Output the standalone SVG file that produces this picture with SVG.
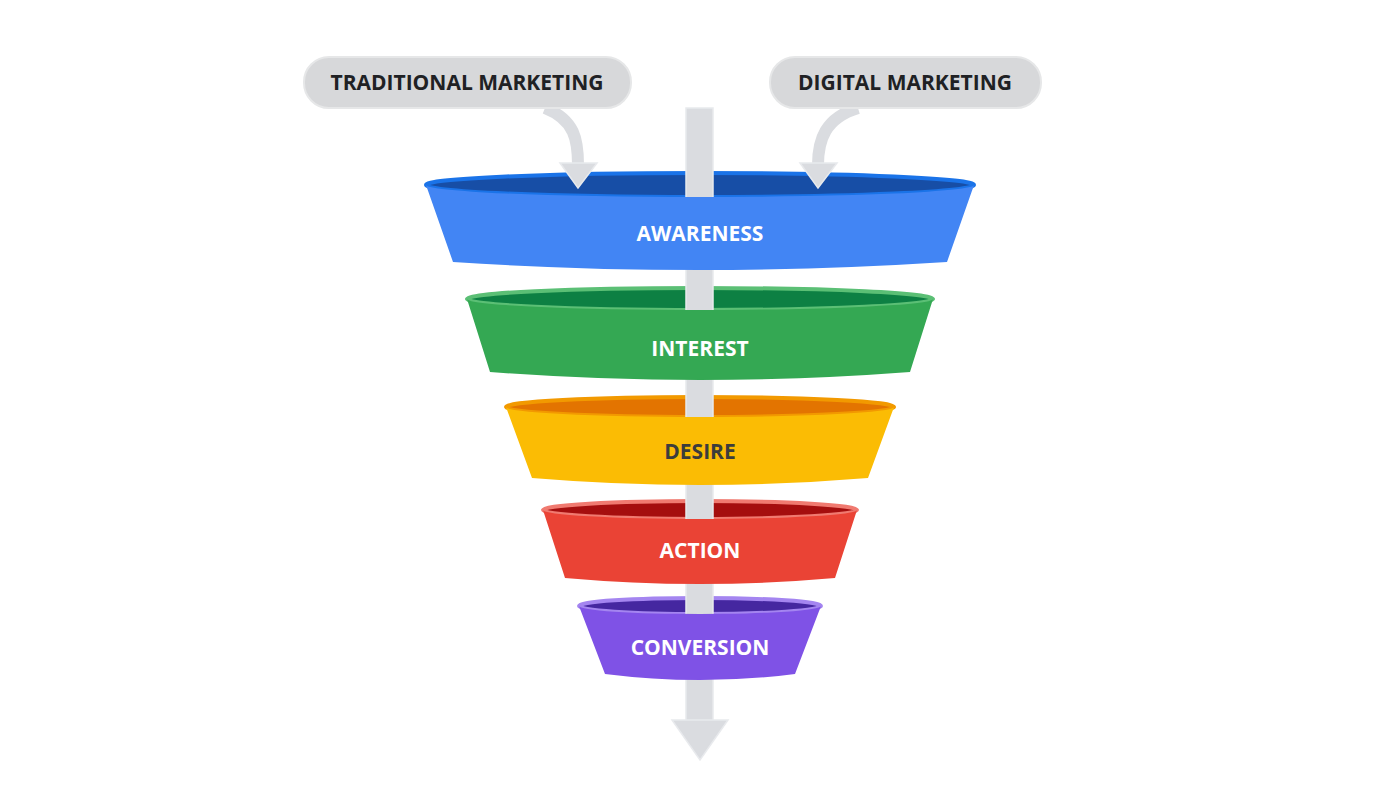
<svg xmlns="http://www.w3.org/2000/svg" width="1400" height="788" viewBox="0 0 1400 788">
<style>
.lbl{font-family:"Open Sans","Liberation Sans",sans-serif;font-weight:700;font-size:21px;text-anchor:middle}
.bub{fill:#d7d8da;stroke:#e6e7e8;stroke-width:2}
.bt{fill:#202124;font-size:21px}
.gray{fill:#dadce0;stroke:#e8eaed;stroke-width:1.5}
</style>
<rect width="1400" height="788" fill="#fff"/>
<g id="interiors">
<ellipse cx="700" cy="185" rx="274" ry="12" fill="#174ea6" stroke="#1a73e8" stroke-width="4"/>
<ellipse cx="700" cy="299" rx="233" ry="11" fill="#0d8043" stroke="#5bbf75" stroke-width="4"/>
<ellipse cx="700" cy="407" rx="194" ry="10" fill="#e37400" stroke="#f29900" stroke-width="4"/>
<ellipse cx="700" cy="510" rx="157" ry="9" fill="#a50e0e" stroke="#f07a70" stroke-width="4"/>
<ellipse cx="700" cy="606" rx="121" ry="8" fill="#4527a0" stroke="#a485f0" stroke-width="4"/>
</g>
<g id="connectors">
<rect class="gray" x="686" y="108" width="27" height="614"/>
<polygon class="gray" points="672,720 728,720 700,760"/>
<path d="M545,108 C575,120 578,140 578,165" fill="none" stroke="#dadce0" stroke-width="12"/>
<polygon class="gray" points="560,163 597,163 578,188"/>
<path d="M858,108 C825,118 818,140 818,165" fill="none" stroke="#dadce0" stroke-width="12"/>
<polygon class="gray" points="800,163 837,163 818,188"/>
</g>
<g id="awareness">
<path d="M426,185 A274,12 0 0 0 974,185 L947,262 Q700,278 453,262 Z" fill="#4285f4"/>
<text class="lbl" x="700" y="241" fill="#fff">AWARENESS</text>
</g>
<g id="interest">
<path d="M467,299 A233,11 0 0 0 933,299 L910,372 Q700,388 490,372 Z" fill="#34a853"/>
<text class="lbl" x="700" y="356" fill="#fff">INTEREST</text>
</g>
<g id="desire">
<path d="M506,407 A194,10 0 0 0 894,407 L868,478 Q700,492 532,478 Z" fill="#fbbc04"/>
<text class="lbl" x="700" y="459" fill="#3c3c3c">DESIRE</text>
</g>
<g id="action">
<path d="M543,510 A157,9 0 0 0 857,510 L835,578 Q700,590 565,578 Z" fill="#ea4335"/>
<text class="lbl" x="700" y="558" fill="#fff">ACTION</text>
</g>
<g id="conversion">
<path d="M579,606 A121,8 0 0 0 821,606 L795,674 Q700,686 605,674 Z" fill="#7f52e6"/>
<text class="lbl" x="700" y="655" fill="#fff">CONVERSION</text>
</g>
<g id="traditional">
<rect class="bub" x="304" y="57" width="327" height="51" rx="25"/>
<text class="lbl bt" x="467" y="90">TRADITIONAL MARKETING</text>
</g>
<g id="digital">
<rect class="bub" x="770" y="57" width="271" height="51" rx="25"/>
<text class="lbl bt" x="905" y="90">DIGITAL MARKETING</text>
</g>
</svg>
